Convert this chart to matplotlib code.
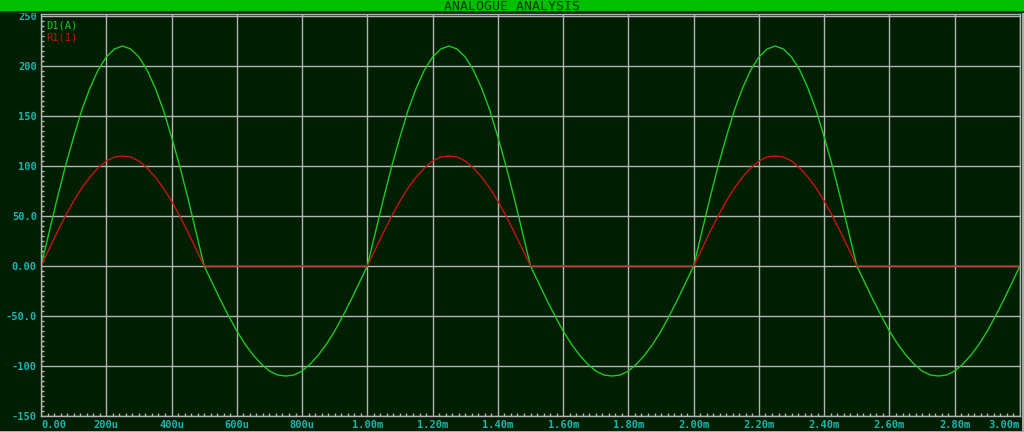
import matplotlib
matplotlib.use("Agg")
import numpy as np
from matplotlib import pyplot as plt
from matplotlib.patches import Rectangle

# time axis in microseconds, 25u steps from 0 to 3.00m
time_us = list(range(0, 3001, 25))

# D1(A) trace
d1_a = [
    0, 34, 68, 100, 129, 156, 178, 196, 209, 217, 220, 217, 209, 196, 178, 156, 129, 100, 68, 34,
    0, -17, -34, -50, -65, -78, -89, -98, -105, -109, -110, -109, -105, -98, -89, -78, -65, -50, -34, -17,
    0, 34, 68, 100, 129, 156, 178, 196, 209, 217, 220, 217, 209, 196, 178, 156, 129, 100, 68, 34,
    0, -17, -34, -50, -65, -78, -89, -98, -105, -109, -110, -109, -105, -98, -89, -78, -65, -50, -34, -17,
    0, 34, 68, 100, 129, 156, 178, 196, 209, 217, 220, 217, 209, 196, 178, 156, 129, 100, 68, 34,
    0, -17, -34, -50, -65, -78, -89, -98, -105, -109, -110, -109, -105, -98, -89, -78, -65, -50, -34, -17,
    0,
]

# R1(1) trace
r1_1 = [
    0, 17, 34, 50, 65, 78, 89, 98, 105, 109, 110, 109, 105, 98, 89, 78, 65, 50, 34, 17,
    0, 0, 0, 0, 0, 0, 0, 0, 0, 0, 0, 0, 0, 0, 0, 0, 0, 0, 0, 0,
    0, 17, 34, 50, 65, 78, 89, 98, 105, 109, 110, 109, 105, 98, 89, 78, 65, 50, 34, 17,
    0, 0, 0, 0, 0, 0, 0, 0, 0, 0, 0, 0, 0, 0, 0, 0, 0, 0, 0, 0,
    0, 17, 34, 50, 65, 78, 89, 98, 105, 109, 110, 109, 105, 98, 89, 78, 65, 50, 34, 17,
    0, 0, 0, 0, 0, 0, 0, 0, 0, 0, 0, 0, 0, 0, 0, 0, 0, 0, 0, 0,
    0,
]

x_ticks = list(range(0, 3001, 200))
x_labels = ["0.00", "200u", "400u", "600u", "800u", "1.00m", "1.20m", "1.40m",
            "1.60m", "1.80m", "2.00m", "2.20m", "2.40m", "2.60m", "2.80m", "3.00m"]
y_ticks = [-150, -100, -50, 0, 50, 100, 150, 200, 250]
y_labels = ["-150", "-100", "-50.0", "0.00", "50.0", "100", "150", "200", "250"]

bg = "#001e00"
grid_c = "#b4b4b4"
label_c = "#18b4b4"
font = "DejaVu Sans Mono"

W, H = 1024, 432
fig = plt.figure(figsize=(W / 100, H / 100), dpi=100, facecolor=bg)

# light frame on the bottom and right edge
fig.patches.append(Rectangle((0, 0), 1, 1.5 / H, transform=fig.transFigure,
                             facecolor="#a8aca8", edgecolor="none"))
fig.patches.append(Rectangle((1 - 2 / W, 0), 2 / W, 1, transform=fig.transFigure,
                             facecolor="#a8aca8", edgecolor="none"))
# title bar
fig.patches.append(Rectangle((0, 1 - 11 / H), 1, 11 / H, transform=fig.transFigure,
                             facecolor="#00c000", edgecolor="none"))
fig.patches.append(Rectangle((0, 1 - 12.5 / H), 1, 1.5 / H, transform=fig.transFigure,
                             facecolor="#003000", edgecolor="none"))
fig.text(0.5, 1 - 10 / H, "ANALOGUE ANALYSIS", color="#003800", ha="center", va="baseline",
         fontsize=9.5, family=font)

ax = fig.add_axes([41 / W, 16 / H, (1020 - 41) / W, (416 - 14) / H])
ax.set_facecolor(bg)

ax.plot(time_us, d1_a, color="#1ec81e", lw=1.0)
ax.plot(time_us, r1_1, color="#c81414", lw=1.0)

ax.set_xlim(0, 3000)
ax.set_ylim(-150, 252)
ax.set_xticks(x_ticks)
ax.set_xticklabels(x_labels)
ax.set_yticks(y_ticks)
ax.set_yticklabels(y_labels)
ax.set_xticks(range(0, 3001, 20), minor=True)
ax.set_yticks(range(-150, 251, 5), minor=True)

ax.grid(True, which="major", color=grid_c, lw=1.0)
ax.tick_params(which="major", length=0, pad=3, labelsize=7.5, labelcolor=label_c)
ax.tick_params(which="minor", direction="in", length=2.5, width=1, color=grid_c,
               top=False, right=False)
for lab in ax.get_xticklabels() + ax.get_yticklabels():
    lab.set_family(font)
    lab.set_fontweight("bold")
xl = ax.get_xticklabels()
xl[0].set_ha("left")
xl[-1].set_ha("right")

for s in ax.spines.values():
    s.set_color(grid_c)
    s.set_linewidth(1.0)

ax.text(0.005, 0.985, "D1(A)", transform=ax.transAxes, color="#1ec81e", fontsize=7.5,
        family=font, va="top", ha="left")
ax.text(0.005, 0.955, "R1(1)", transform=ax.transAxes, color="#c81414", fontsize=7.5,
        family=font, va="top", ha="left")

fig.savefig("out.png", dpi=100, facecolor=bg)
